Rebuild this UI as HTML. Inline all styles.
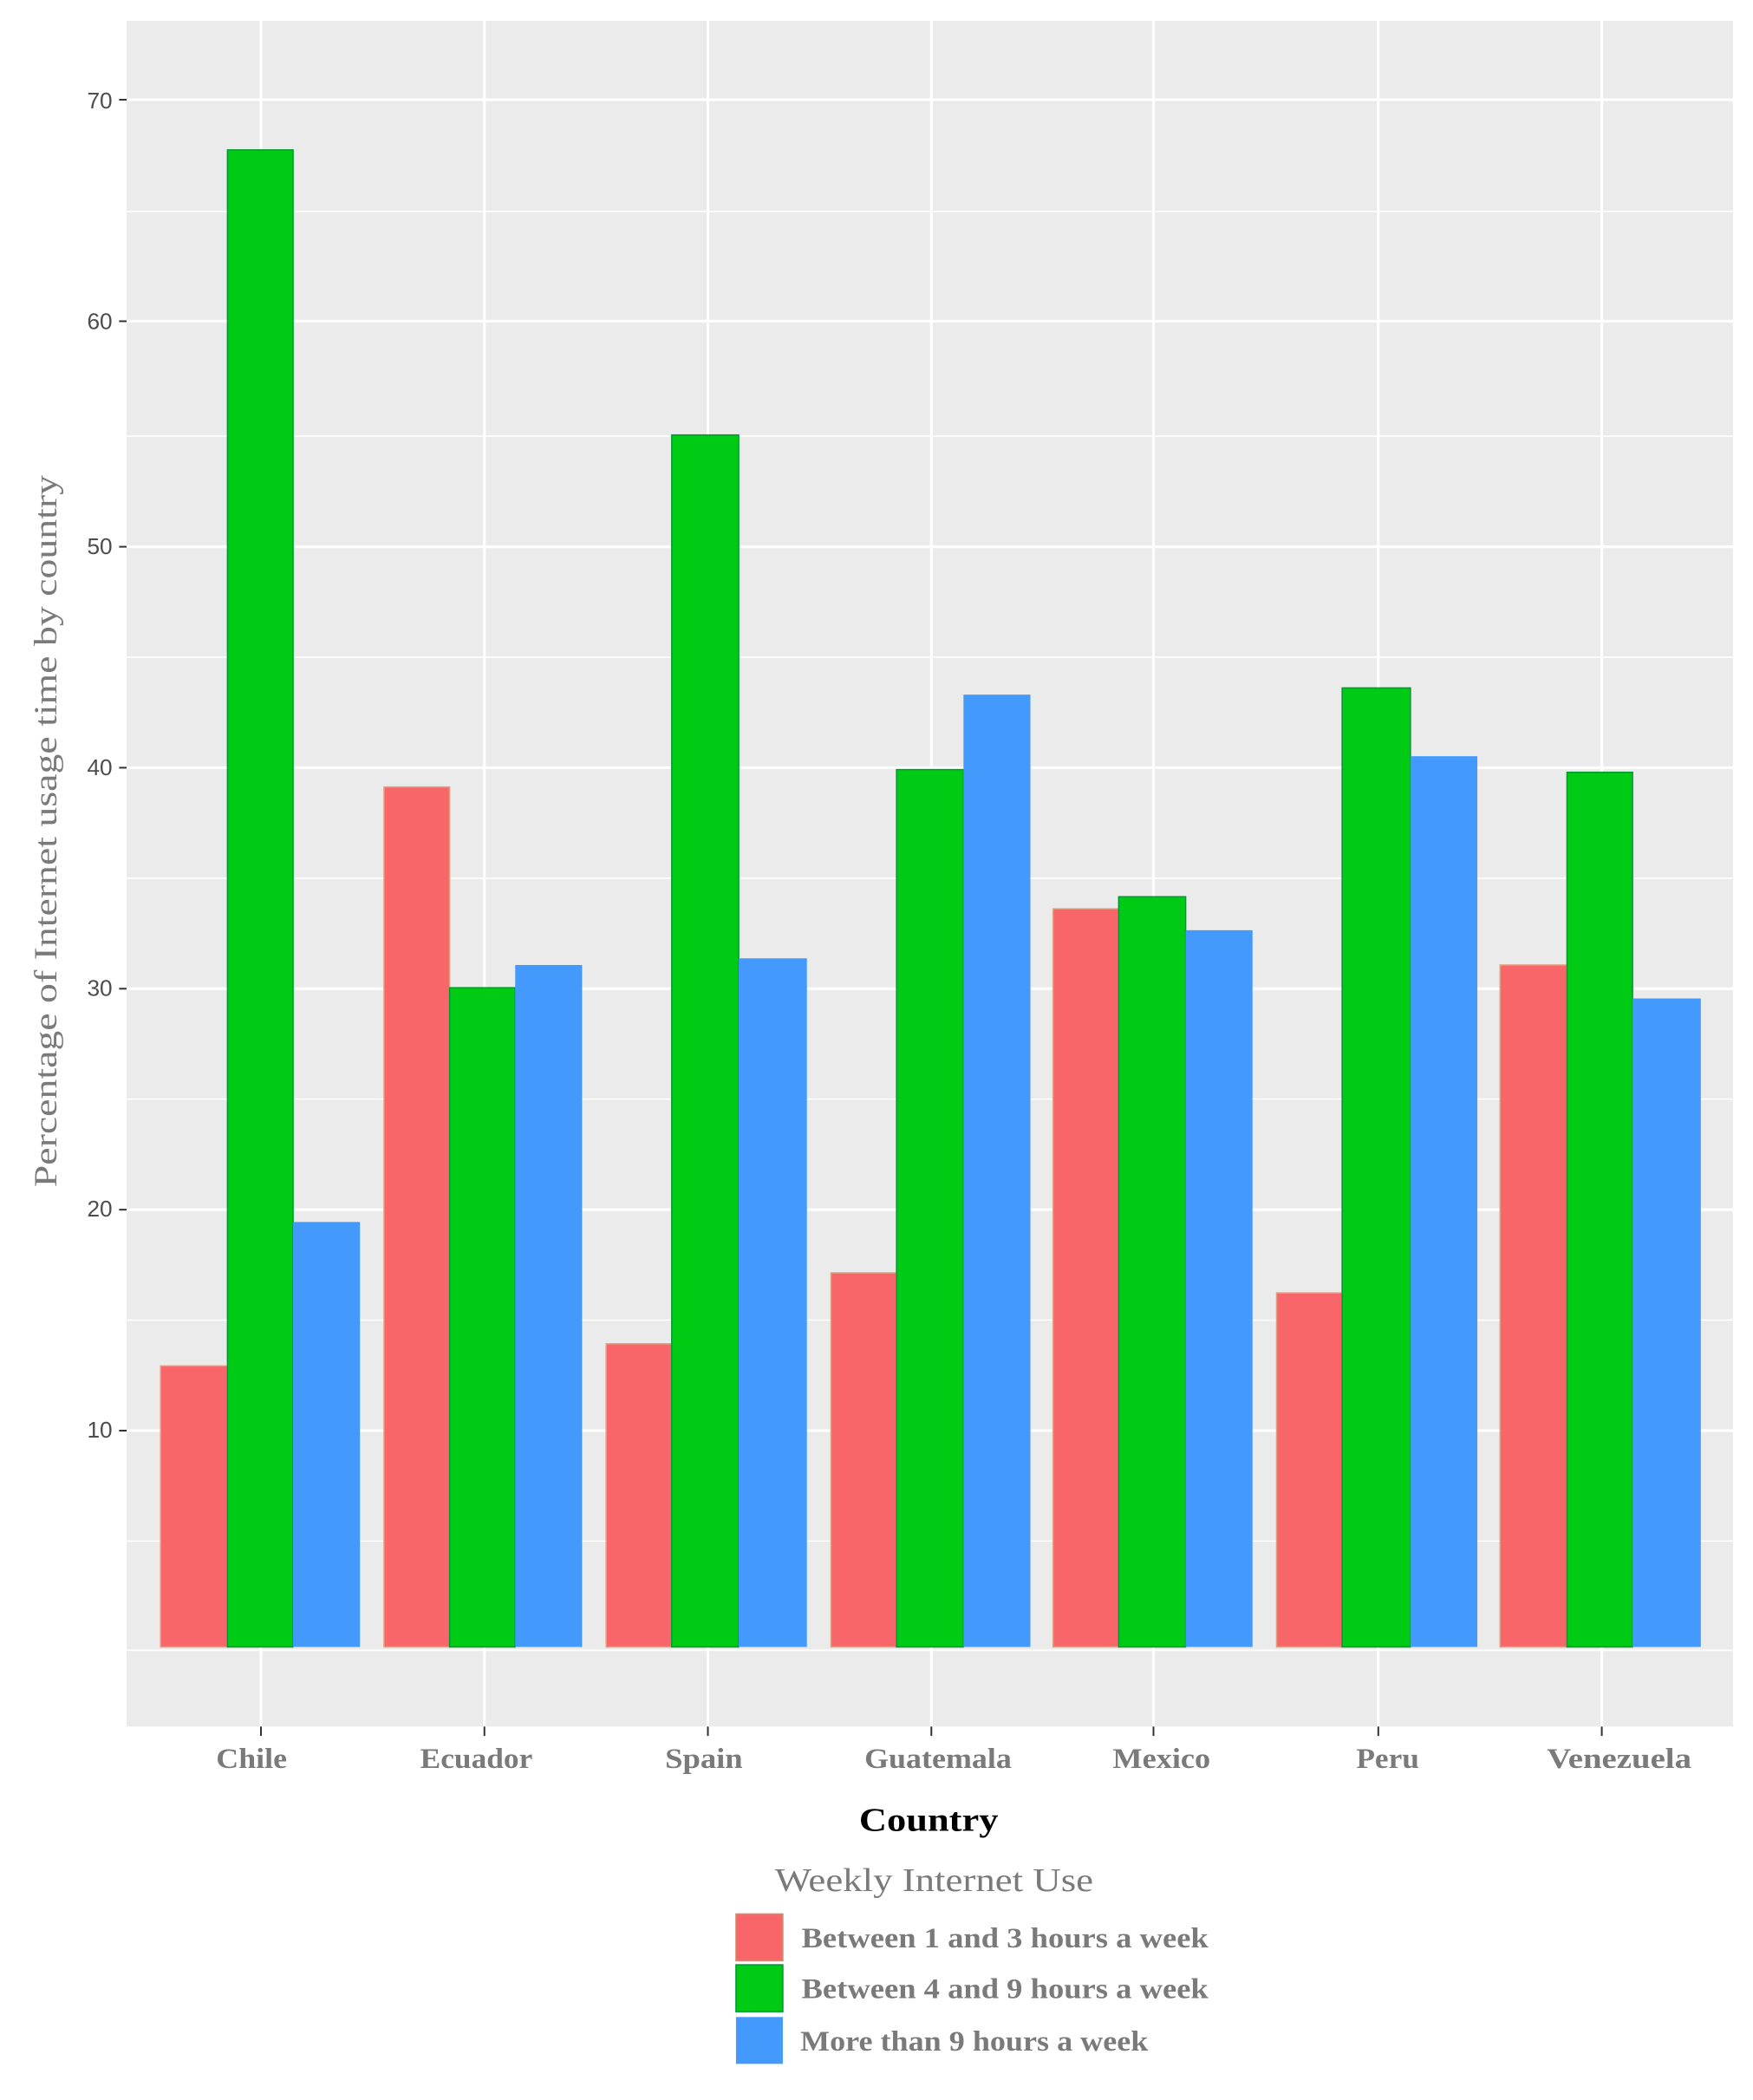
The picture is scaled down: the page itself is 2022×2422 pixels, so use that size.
<!DOCTYPE html>
<html><head><meta charset="utf-8"><style>html,body{margin:0;padding:0;background:#fff}svg{display:block}</style></head>
<body>
<svg width="2022" height="2422" viewBox="0 0 1310 1569" preserveAspectRatio="none" xmlns="http://www.w3.org/2000/svg">
<rect x="94.6" y="15.5" width="1200.4" height="1274.5" fill="#ebebeb"/>
<g stroke="#fff" stroke-width="1">
<line x1="94.6" x2="1295" y1="1151.4" y2="1151.4"/><line x1="94.6" x2="1295" y1="986.3" y2="986.3"/><line x1="94.6" x2="1295" y1="821.2" y2="821.2"/><line x1="94.6" x2="1295" y1="656.1" y2="656.1"/><line x1="94.6" x2="1295" y1="491" y2="491"/><line x1="94.6" x2="1295" y1="325.9" y2="325.9"/><line x1="94.6" x2="1295" y1="158" y2="158"/><line x1="94.6" x2="1295" y1="1233" y2="1233"/>
</g>
<g stroke="#fff" stroke-width="2">
<line x1="94.6" x2="1295" y1="1068.9" y2="1068.9"/><line x1="94.6" x2="1295" y1="903.8" y2="903.8"/><line x1="94.6" x2="1295" y1="738.7" y2="738.7"/><line x1="94.6" x2="1295" y1="573.6" y2="573.6"/><line x1="94.6" x2="1295" y1="408.5" y2="408.5"/><line x1="94.6" x2="1295" y1="240" y2="240"/><line x1="94.6" x2="1295" y1="74.5" y2="74.5"/>
<line x1="195" x2="195" y1="15.5" y2="1290"/><line x1="362" x2="362" y1="15.5" y2="1290"/><line x1="529" x2="529" y1="15.5" y2="1290"/><line x1="696" x2="696" y1="15.5" y2="1290"/><line x1="862" x2="862" y1="15.5" y2="1290"/><line x1="1030" x2="1030" y1="15.5" y2="1290"/><line x1="1197" x2="1197" y1="15.5" y2="1290"/>
</g>
<g stroke-width="1">
<rect x="120" y="1020.5" width="50" height="210" fill="#f8666a" stroke="#e0a080"/>
<rect x="170" y="112" width="49" height="1118.5" fill="#00cb14" stroke="#009a30"/>
<rect x="219" y="913" width="50" height="317.5" fill="#4499fc"/>
<rect x="287" y="588" width="49" height="642.5" fill="#f8666a" stroke="#e0a080"/>
<rect x="336" y="738" width="49" height="492.5" fill="#00cb14" stroke="#009a30"/>
<rect x="385" y="721" width="50" height="509.5" fill="#4499fc"/>
<rect x="453" y="1004" width="49" height="226.5" fill="#f8666a" stroke="#e0a080"/>
<rect x="502" y="325" width="50" height="905.5" fill="#00cb14" stroke="#009a30"/>
<rect x="552" y="716" width="51" height="514.5" fill="#4499fc"/>
<rect x="621" y="951" width="49" height="279.5" fill="#f8666a" stroke="#e0a080"/>
<rect x="670" y="575" width="50" height="655.5" fill="#00cb14" stroke="#009a30"/>
<rect x="720" y="519" width="50" height="711.5" fill="#4499fc"/>
<rect x="787" y="679" width="49" height="551.5" fill="#f8666a" stroke="#e0a080"/>
<rect x="836" y="670" width="50" height="560.5" fill="#00cb14" stroke="#009a30"/>
<rect x="886" y="695" width="50" height="535.5" fill="#4499fc"/>
<rect x="954" y="966" width="49" height="264.5" fill="#f8666a" stroke="#e0a080"/>
<rect x="1003" y="514" width="51" height="716.5" fill="#00cb14" stroke="#009a30"/>
<rect x="1054" y="565" width="50" height="665.5" fill="#4499fc"/>
<rect x="1121" y="721" width="50" height="509.5" fill="#f8666a" stroke="#e0a080"/>
<rect x="1171" y="577" width="49" height="653.5" fill="#00cb14" stroke="#009a30"/>
<rect x="1220" y="746" width="51" height="484.5" fill="#4499fc"/>
</g>
<g stroke="#333" stroke-width="1.3">
<line x1="89" x2="94.6" y1="74.5" y2="74.5"/><line x1="89" x2="94.6" y1="240" y2="240"/><line x1="89" x2="94.6" y1="408.5" y2="408.5"/><line x1="89" x2="94.6" y1="573.6" y2="573.6"/><line x1="89" x2="94.6" y1="738.7" y2="738.7"/><line x1="89" x2="94.6" y1="903.8" y2="903.8"/><line x1="89" x2="94.6" y1="1068.9" y2="1068.9"/>
<line x1="195" x2="195" y1="1290" y2="1297"/><line x1="362" x2="362" y1="1290" y2="1297"/><line x1="529" x2="529" y1="1290" y2="1297"/><line x1="696" x2="696" y1="1290" y2="1297"/><line x1="862" x2="862" y1="1290" y2="1297"/><line x1="1030" x2="1030" y1="1290" y2="1297"/><line x1="1197" x2="1197" y1="1290" y2="1297"/>
</g>
<g font-family="Liberation Sans, sans-serif" font-size="17" fill="#4d4d4d" text-anchor="end">
<text x="84" y="81">70</text><text x="84" y="246">60</text><text x="84" y="414">50</text><text x="84" y="579">40</text><text x="84" y="744">30</text><text x="84" y="909">20</text><text x="84" y="1074">10</text>
</g>
<g font-family="Liberation Serif, serif" font-size="21" font-weight="bold" fill="#7a7a7a" text-anchor="middle">
<text x="188" y="1321" textLength="53" lengthAdjust="spacingAndGlyphs">Chile</text><text x="356" y="1321" textLength="84" lengthAdjust="spacingAndGlyphs">Ecuador</text><text x="526" y="1321" textLength="58" lengthAdjust="spacingAndGlyphs">Spain</text><text x="701" y="1321" textLength="110" lengthAdjust="spacingAndGlyphs">Guatemala</text><text x="868" y="1321" textLength="73" lengthAdjust="spacingAndGlyphs">Mexico</text><text x="1037" y="1321" textLength="47" lengthAdjust="spacingAndGlyphs">Peru</text><text x="1210" y="1321" textLength="108" lengthAdjust="spacingAndGlyphs">Venezuela</text>
</g>
<text x="694" y="1368" font-family="Liberation Serif, serif" font-size="25" font-weight="bold" fill="#000" text-anchor="middle" textLength="104" lengthAdjust="spacingAndGlyphs">Country</text>
<text transform="translate(42,621) rotate(-90)" font-family="Liberation Serif, serif" font-size="24" fill="#7a7a7a" text-anchor="middle" textLength="532" lengthAdjust="spacingAndGlyphs">Percentage of Internet usage time by country</text>
<text x="698" y="1413" font-family="Liberation Serif, serif" font-size="25" fill="#7a7a7a" text-anchor="middle" textLength="238" lengthAdjust="spacingAndGlyphs">Weekly Internet Use</text>
<rect x="550" y="1430" width="35" height="35" fill="#f8666a" stroke="#d09070"/>
<rect x="550" y="1468" width="35" height="35" fill="#00cb14" stroke="#009a30"/>
<rect x="550" y="1507" width="35" height="35" fill="#4499fc"/>
<g font-family="Liberation Serif, serif" font-size="21" font-weight="bold" fill="#7a7a7a">
<text x="599" y="1455" textLength="304" lengthAdjust="spacingAndGlyphs">Between 1 and 3 hours a week</text>
<text x="599" y="1493" textLength="304" lengthAdjust="spacingAndGlyphs">Between 4 and 9 hours a week</text>
<text x="598" y="1532" textLength="260" lengthAdjust="spacingAndGlyphs">More than 9 hours a week</text>
</g>
</svg>
</body></html>
